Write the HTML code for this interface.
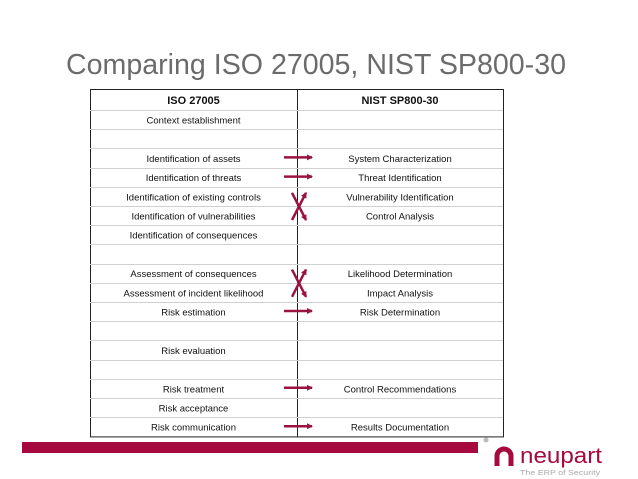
<!DOCTYPE html>
<html><head><meta charset="utf-8"><style>
html,body{margin:0;padding:0;background:#fff;}
svg{display:block;font-family:"Liberation Sans",sans-serif;}
</style></head><body>
<svg id="s" width="638" height="479" viewBox="0 0 638 479">
<defs><marker id="ah" markerWidth="6" markerHeight="6" refX="5" refY="3" orient="auto" markerUnits="userSpaceOnUse" viewBox="0 0 6 6"><path d="M0,0 L6,3 L0,6 Z" fill="#9a1340"/></marker></defs>
<text x="66" y="74" font-size="29" fill="#6b6b6b" textLength="500" lengthAdjust="spacingAndGlyphs">Comparing ISO 27005, NIST SP800-30</text>
<g id="tbl"></g>
<rect x="22" y="442" width="456" height="11" fill="#a6093d"/>
<g>
<circle cx="486" cy="440" r="2.5" fill="#bbb"/>
<path d="M497 466 L497 456 A7 7 0 0 1 511 456 L511 466" fill="none" stroke="#a6093d" stroke-width="5"/>
<text x="520" y="463" font-size="22" fill="#a6093d" textLength="82" lengthAdjust="spacingAndGlyphs">neupart</text>
<text x="520" y="475" font-size="7" fill="#aaa" textLength="80" lengthAdjust="spacingAndGlyphs">The ERP of Security</text>
</g>
</svg>
<script>
const leftItems=["Context establishment","","Identification of assets","Identification of threats","Identification of existing controls","Identification of vulnerabilities","Identification of consequences","","Assessment of consequences","Assessment of incident likelihood","Risk estimation","","Risk evaluation","","Risk treatment","Risk acceptance","Risk communication"];
const rightItems=["","","System Characterization","Threat Identification","Vulnerability Identification","Control Analysis","","","Likelihood Determination","Impact Analysis","Risk Determination","","","","Control Recommendations","","Results Documentation"];
const straightArrows=[2,3,10,14,16];
const crossArrows=[4,8];
const NS="http://www.w3.org/2000/svg";
const g=document.getElementById('tbl');
const X0=90,X1=503,XM=297,Y0=89,HH=21,RH=19.2;
function el(t,a){const e=document.createElementNS(NS,t);for(const k in a)e.setAttribute(k,a[k]);g.appendChild(e);return e;}
const n=leftItems.length;
const yb=Y0+HH+n*RH;
const frame=el('rect',{x:X0+.5,y:Y0+.5,width:X1-X0,height:yb-Y0,fill:'none',stroke:'#222','stroke-width':1});


const vl=el('line',{x1:XM+.5,y1:Y0,x2:XM+.5,y2:yb,stroke:'#222'});


for(let i=0;i<n;i++){const y=Math.round(Y0+HH+i*RH)+.5;const l=el('line',{x1:X0,y1:y,x2:X1,y2:y,stroke:'#d0d0d0'});

}
const h1=el('text',{x:(X0+XM)/2,y:Y0+15,'font-size':11,'font-weight':'bold','text-anchor':'middle',fill:'#111'});h1.textContent='ISO 27005';


const h2=el('text',{x:(XM+X1)/2,y:Y0+15,'font-size':11,'font-weight':'bold','text-anchor':'middle',fill:'#111'});h2.textContent='NIST SP800-30';


leftItems.forEach((t,i)=>{if(!t)return;const e=el('text',{x:(X0+XM)/2,y:Y0+HH+i*RH+13.5,'font-size':9.5,'text-anchor':'middle',fill:'#111'});e.textContent=t;

});
rightItems.forEach((t,i)=>{if(!t)return;const e=el('text',{x:(XM+X1)/2,y:Y0+HH+i*RH+13.5,'font-size':9.5,'text-anchor':'middle',fill:'#111'});e.textContent=t;

});
straightArrows.forEach(i=>{const y=Y0+HH+i*RH+9;const a=el('line',{x1:284,y1:y,x2:312,y2:y,stroke:'#9a1340','stroke-width':2.5,'marker-end':'url(#ah)'});

});
crossArrows.forEach(i=>{const yt=Y0+HH+i*RH+7,yb2=yt+RH+2;
const a=el('line',{x1:292,y1:yb2+5,x2:306,y2:yt-1,stroke:'#9a1340','stroke-width':2.5,'marker-end':'url(#ah)'});


const b=el('line',{x1:292,y1:yt-1,x2:306,y2:yb2+5,stroke:'#9a1340','stroke-width':2.5,'marker-end':'url(#ah)'});

});
</script>
</body></html>
